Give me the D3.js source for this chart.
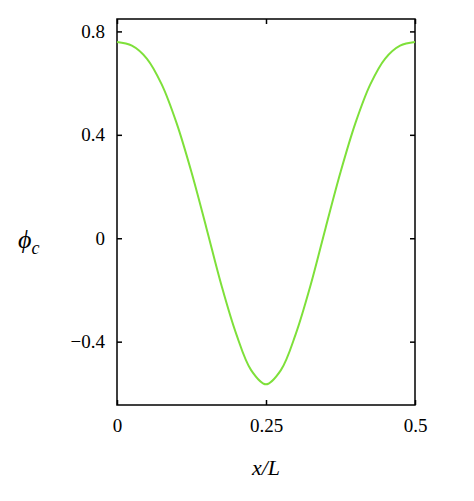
<!DOCTYPE html>
<html><head><meta charset="utf-8">
<script src="https://cdn.jsdelivr.net/npm/d3@7"></script>
<style>body{margin:0;background:#fff}</style></head>
<body><svg id="c" width="474" height="501"></svg>
<script>
const xs = [0,0.025,0.05,0.075,0.1,0.125,0.15,0.175,0.2,0.225,0.25,0.275,0.3,0.325,0.35,0.375,0.4,0.425,0.45,0.475,0.5];
const phi = [0.759,0.745,0.695,0.595,0.445,0.255,0.04,-0.18,-0.37,-0.51,-0.565,-0.51,-0.37,-0.18,0.04,0.255,0.445,0.595,0.695,0.745,0.759];
const xTicks = [0,0.25,0.5];
const yTicks = [0.8,0.4,0,-0.4];
const svg = d3.select("#c");
const x = d3.scaleLinear().domain([0,0.5]).range([117,415]);
const y = d3.scaleLinear().domain([-0.645,0.848]).range([405,19]);
const font = "Liberation Serif, serif";
svg.append("rect").attr("x",117).attr("y",19).attr("width",298).attr("height",386).attr("fill","none").attr("stroke","#000").attr("stroke-width",1.5);
const ya = svg.append("g").attr("transform","translate(117,0)").call(d3.axisLeft(y).tickValues(yTicks).tickSize(-5).tickPadding(12).tickFormat(d=>d===0?"0":(d<0?"\u2212":"")+String(Math.abs(d))));
const yr = svg.append("g").attr("transform","translate(415,0)").call(d3.axisRight(y).tickValues(yTicks).tickSize(-5).tickFormat(""));
const xa = svg.append("g").attr("transform","translate(0,405)").call(d3.axisBottom(x).tickValues(xTicks).tickSize(-5).tickPadding(14).tickFormat(d=>String(d)));
const xt = svg.append("g").attr("transform","translate(0,19)").call(d3.axisTop(x).tickValues(xTicks).tickSize(-5).tickFormat(""));
[ya,yr,xa,xt].forEach(g=>{g.select(".domain").remove();g.selectAll("line").attr("stroke","#000").attr("stroke-width",1.5);g.selectAll("text").attr("font-family",font).attr("font-size",19).attr("fill","#000");});
svg.append("path").datum(xs.map((v,i)=>[v,phi[i]])).attr("fill","none").attr("stroke","#7ee03a").attr("stroke-width",2)
 .attr("d",d3.line().x(d=>x(d[0])).y(d=>y(d[1])).curve(d3.curveCatmullRom));
const yl = svg.append("text").attr("x",18).attr("y",248).attr("font-family",font).attr("font-size",26).attr("font-style","italic");
yl.append("tspan").text("\u03d5");
yl.append("tspan").attr("font-size",18).attr("dy",6).text("c");
svg.append("text").attr("x",266).attr("y",475).attr("text-anchor","middle").attr("font-family",font).attr("font-size",22).attr("font-style","italic").text("x/L");
</script></body></html>
